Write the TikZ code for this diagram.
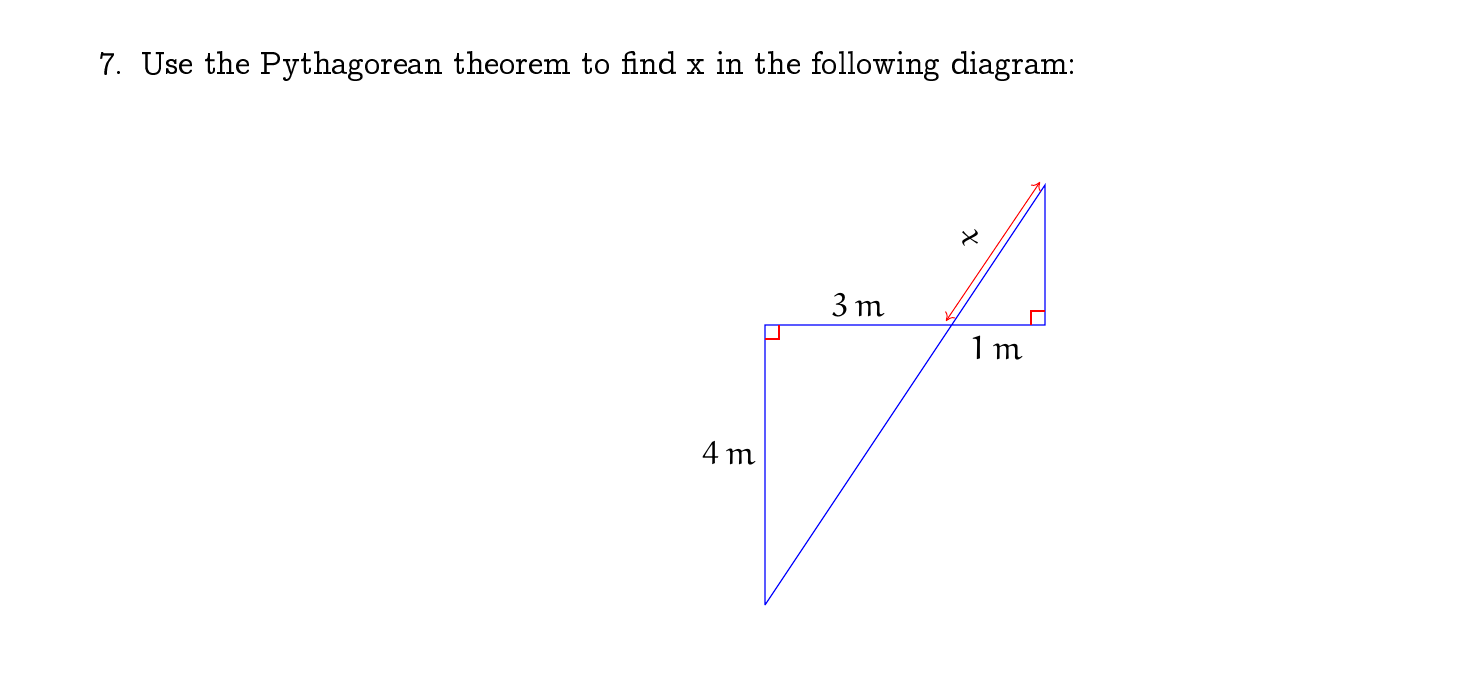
\documentclass[tikz,border=0pt]{standalone}
\usetikzlibrary{arrows.meta}
\IfFileExists{euler.sty}{\usepackage{euler}}{}
\IfFileExists{ot1ccr.fd}{\newcommand{\concr}{\fontencoding{OT1}\fontfamily{ccr}\selectfont}}{\newcommand{\concr}{}}
\begin{document}
\begin{tikzpicture}[x=0.5pt,y=-0.5pt,
  side/.style={blue,line width=0.6pt},
  rmark/.style={red,line width=1.4pt},
  dimarrow/.style={red,line width=0.5pt,{To[length=4pt,width=6pt]}-{To[length=4pt,width=6pt]}},
  lbl/.style={font=\fontsize{16.5}{20}\selectfont}]
\useasboundingbox (0,0) rectangle (1481,673);
\node[font=\fontsize{17}{20}\selectfont,scale=0.95,anchor=base west,inner sep=0pt] (title) at (98,75) {\concr 7.\hspace{0.53em}Use the Pythagorean theorem to find x in the following diagram:};
\coordinate (A) at (765,325);
\coordinate (B) at (765,605);
\coordinate (C) at (1045,325);
\coordinate (D) at (1045,185);
\draw[side] (B) -- (A) -- (C) -- (D) -- (B);
\draw[rmark] (765,339) -- (779,339) -- (779,325);
\draw[rmark] (1031,325) -- (1031,311) -- (1045,311);
\coordinate (P) at (946,321);
\coordinate (Q) at (1040,182);
\draw[dimarrow] (P) -- (Q);
\node[lbl] (l3) at (858,305) {$3\,m$};
\node[lbl] (l1) at (996,348) {$1\,m$};
\node[lbl] (l4) at (729,453) {$4\,m$};
\node[lbl,rotate=90] (lx) at (970,238) {$x$};
\end{tikzpicture}
\end{document}
